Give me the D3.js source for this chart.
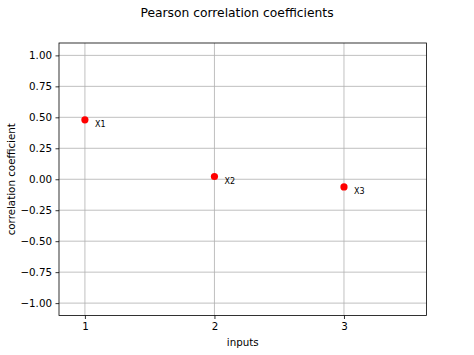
<!DOCTYPE html>
<html><head><meta charset="utf-8">
<script src="https://d3js.org/d3.v7.min.js"></script>
<style>body{margin:0;background:#fff}svg{display:block;font-family:"DejaVu Sans",sans-serif}</style>
</head><body><svg id="c" width="474" height="355"></svg>
<script>
const names = ["X1","X2","X3"];
const xs = [1,2,3];
const values = [0.48, 0.022, -0.062];
const yTicks = [-1.0,-0.75,-0.5,-0.25,0,0.25,0.5,0.75,1.0];
const xTicks = [1,2,3];

const svg = d3.select("#c");
const L=59, R=426.5, T=43, B=315.5;
const x = d3.scaleLinear().domain([0.8,3.637]).range([L,R]);
const y = d3.scaleLinear().domain([-1.1,1.1]).range([B,T]);
const fmt = v => d3.format(".2f")(v).replace("-","\u2212");

// grid
svg.append("g").selectAll("line").data(yTicks).join("line")
  .attr("x1",L).attr("x2",R).attr("y1",d=>y(d)).attr("y2",d=>y(d))
  .attr("stroke","#b0b0b0").attr("stroke-width",0.8);
svg.append("g").selectAll("line").data(xTicks).join("line")
  .attr("y1",T).attr("y2",B).attr("x1",d=>x(d)).attr("x2",d=>x(d))
  .attr("stroke","#b0b0b0").attr("stroke-width",0.8);

// axes
const ya = svg.append("g").attr("transform",`translate(${L},0)`)
  .call(d3.axisLeft(y).tickValues(yTicks).tickFormat(fmt).tickSize(3.5).tickPadding(3.5));
const xa = svg.append("g").attr("transform",`translate(0,${B})`)
  .call(d3.axisBottom(x).tickValues(xTicks).tickFormat(d3.format("d")).tickSize(3.5).tickPadding(3.5));
[ya,xa].forEach(a=>{a.select(".domain").remove();
  a.selectAll("text").attr("font-size","10.3px").attr("fill","#000").attr("font-family","DejaVu Sans");
  a.selectAll("line").attr("stroke","#000").attr("stroke-width",0.8);});

svg.append("rect").attr("x",L).attr("y",T).attr("width",R-L).attr("height",B-T)
  .attr("fill","none").attr("stroke","#000").attr("stroke-width",0.8);

// points
svg.append("g").selectAll("circle").data(xs).join("circle")
  .attr("cx",d=>x(d)).attr("cy",(d,i)=>y(values[i])).attr("r",3.6).attr("fill","red");
svg.append("g").selectAll("text").data(xs).join("text")
  .attr("x",d=>x(d)+10).attr("y",(d,i)=>y(values[i])+7.5)
  .attr("font-size","8px").text((d,i)=>names[i]);

// labels
svg.append("text").attr("x",237).attr("y",17).attr("text-anchor","middle")
  .attr("font-size","12.3px").text("Pearson correlation coefficients");
svg.append("text").attr("x",(L+R)/2).attr("y",346).attr("text-anchor","middle")
  .attr("font-size","10.3px").text("inputs");
svg.append("text").attr("transform",`translate(15,${(T+B)/2}) rotate(-90)`).attr("text-anchor","middle")
  .attr("font-size","10.3px").text("correlation coefficient");
</script></body></html>
